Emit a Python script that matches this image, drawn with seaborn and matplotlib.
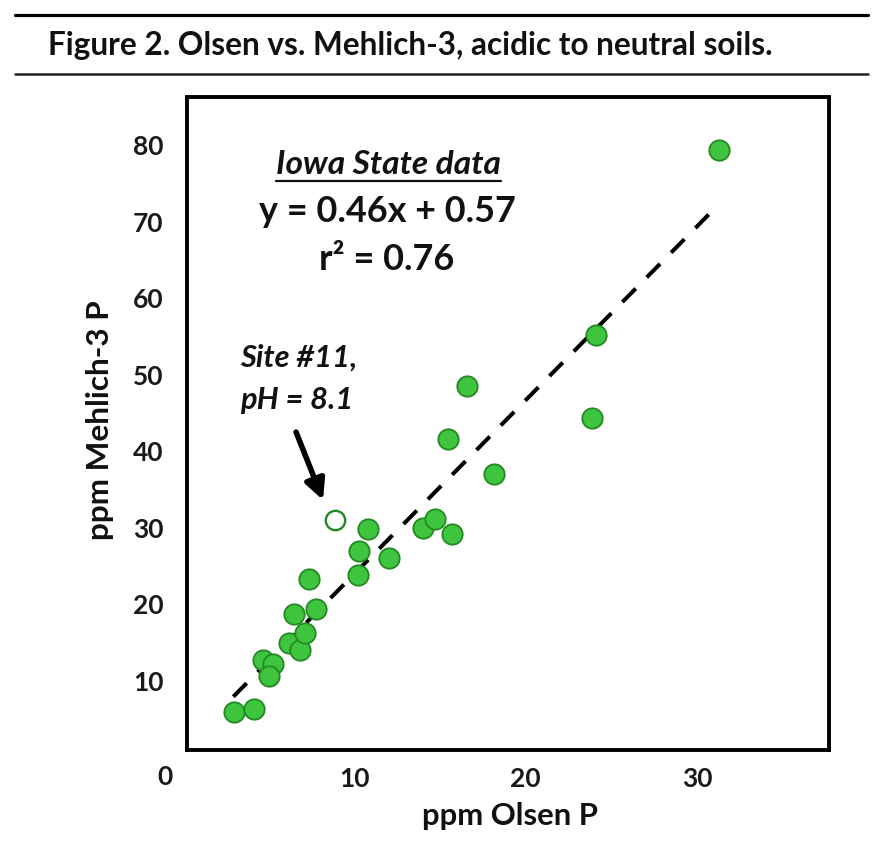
import matplotlib
matplotlib.use("Agg")
import matplotlib.pyplot as plt
import seaborn as sns
import pandas as pd
from matplotlib.lines import Line2D

# ---- data ----
olsen = [3.00, 4.17, 4.71, 5.26, 5.06, 6.23, 6.85, 7.14, 6.50, 7.78, 7.39, 10.25,
         10.31, 10.83, 12.06, 14.04, 14.72, 15.73, 15.50, 16.57, 18.16, 24.11, 23.86, 31.30]
mehlich = [5.96, 6.27, 12.71, 12.19, 10.62, 14.97, 14.02, 16.20, 18.72, 19.34, 23.26, 23.82,
           27.00, 29.79, 26.08, 29.92, 31.14, 29.18, 41.55, 48.52, 37.02, 55.18, 44.30, 79.36]
site11_olsen = [8.89]
site11_mehlich = [31.01]
fit_x = [2.96, 30.99]
fit_y = [7.92, 71.65]
x_ticks = [10, 20, 30]
y_ticks = [10, 20, 30, 40, 50, 60, 70, 80]

title_text = "Figure 2. Olsen vs. Mehlich-3, acidic to neutral soils."
x_label = "ppm Olsen P"
y_label = "ppm Mehlich-3 P"
src_text = "Iowa State data"
eq_text = "y = 0.46x + 0.57"
r2_text = "r\u00b2 = 0.76"
site_text1 = "Site #11,"
site_text2 = "pH = 8.1"

sns.set_theme(style="white")
plt.rcParams["font.family"] = ["Lato", "DejaVu Sans"]

W, H = 880, 850
fig = plt.figure(figsize=(W / 100, H / 100), dpi=100)
fig.patch.set_facecolor("white")


def fx(x):
    return x / W


def fy(y):
    return 1 - y / H


# axes box in pixels: left 187, right 829, top 97, bottom 750
ax = fig.add_axes([fx(187), fy(750), (829 - 187) / W, (750 - 97) / H])
ax.set_xlim(0.26, 37.69)
ax.set_ylim(0.95, 86.3)

df = pd.DataFrame({"olsen": olsen, "mehlich": mehlich})
df_open = pd.DataFrame({"olsen": site11_olsen, "mehlich": site11_mehlich})
df_fit = pd.DataFrame({"x": fit_x, "y": fit_y})

sns.lineplot(data=df_fit, x="x", y="y", ax=ax, color="black", lw=2.9,
             dashes=False, zorder=2)
ax.lines[-1].set_dashes([4.7, 3.9])
ax.lines[-1].set_dash_capstyle("butt")

sns.scatterplot(data=df, x="olsen", y="mehlich", ax=ax, s=215,
                color="#3ec43e", edgecolor="#238a23", linewidth=1.3, zorder=3)
sns.scatterplot(data=df_open, x="olsen", y="mehlich", ax=ax, s=195,
                color="white", edgecolor="#238a23", linewidth=1.7, zorder=3)

ax.set_xticks(x_ticks)
ax.set_yticks(y_ticks)
ax.set_xlabel("")
ax.set_ylabel("")
ax.tick_params(axis="both", length=0, labelsize=19, colors="#1a1a1a")
ax.tick_params(axis="y", pad=17)
ax.tick_params(axis="x", pad=12)
for lab in ax.get_xticklabels() + ax.get_yticklabels():
    lab.set_fontweight("bold")
for sp in ax.spines.values():
    sp.set_visible(True)
    sp.set_color("black")
    sp.set_linewidth(2.8)
ax.grid(False)

# lone "0" label at the corner
fig.text(fx(165), fy(777), "0", ha="center", va="center", fontsize=19,
         fontweight="bold", color="#1a1a1a")

# arrow to site #11
def px2data(x, y):
    return ((x - 182.5) / 17.15, (757.3 - y) / 7.653)

ax.annotate("", xy=px2data(323, 500), xytext=px2data(296, 432),
            arrowprops=dict(arrowstyle="-|>", lw=4.0, color="black",
                            mutation_scale=30, shrinkA=0, shrinkB=0))

renderer = fig.canvas.get_renderer()


def fit_w(t, target, vertical=False):
    bb = t.get_window_extent(renderer)
    w = bb.height if vertical else bb.width
    t.set_fontsize(t.get_fontsize() * target / w)


# title and rules
t_title = fig.text(fx(410), fy(46), title_text, ha="center", va="center",
                   fontsize=18, fontweight="bold", color="#111111")
fit_w(t_title, 728)
fig.add_artist(Line2D([fx(15), fx(868)], [fy(15), fy(15)], color="black", lw=2.3))
fig.add_artist(Line2D([fx(15), fx(868)], [fy(74), fy(74)], color="#222222", lw=1.8))

# axis labels
t_xl = fig.text(fx(510), fy(816), x_label, ha="center", va="center",
                fontsize=17, color="#111111", fontweight="bold")
fit_w(t_xl, 176)
t_yl = fig.text(fx(100), fy(420), y_label, ha="center", va="center",
                fontsize=17, rotation=90, color="#111111", fontweight="bold")
fit_w(t_yl, 240, vertical=True)

# equation block
t_src = fig.text(fx(388), fy(165), src_text, ha="center", va="center",
                 fontsize=17, fontweight="bold", style="italic", color="#111111")
fit_w(t_src, 224)
t_eq = fig.text(fx(387), fy(212), eq_text, ha="center", va="center",
                fontsize=22, fontweight="bold", color="#111111")
fit_w(t_eq, 256)
t_r2 = fig.text(fx(387), fy(260), r2_text, ha="center", va="center",
                fontsize=22, fontweight="bold", color="#111111")
fit_w(t_r2, 135)

t_s1 = fig.text(fx(240), fy(358), site_text1, ha="left", va="center",
                fontsize=17, fontweight="bold", style="italic", color="#111111")
fit_w(t_s1, 117)
t_s2 = fig.text(fx(240), fy(400), site_text2, ha="left", va="center",
                fontsize=t_s1.get_fontsize(), fontweight="bold", style="italic",
                color="#111111")

# underline for the source line
bb = t_src.get_window_extent(renderer)
fig.add_artist(Line2D([bb.x0 / W, bb.x1 / W], [fy(181), fy(181)],
                      color="#111111", lw=1.6))

fig.savefig("out.png", dpi=100, facecolor="white")
